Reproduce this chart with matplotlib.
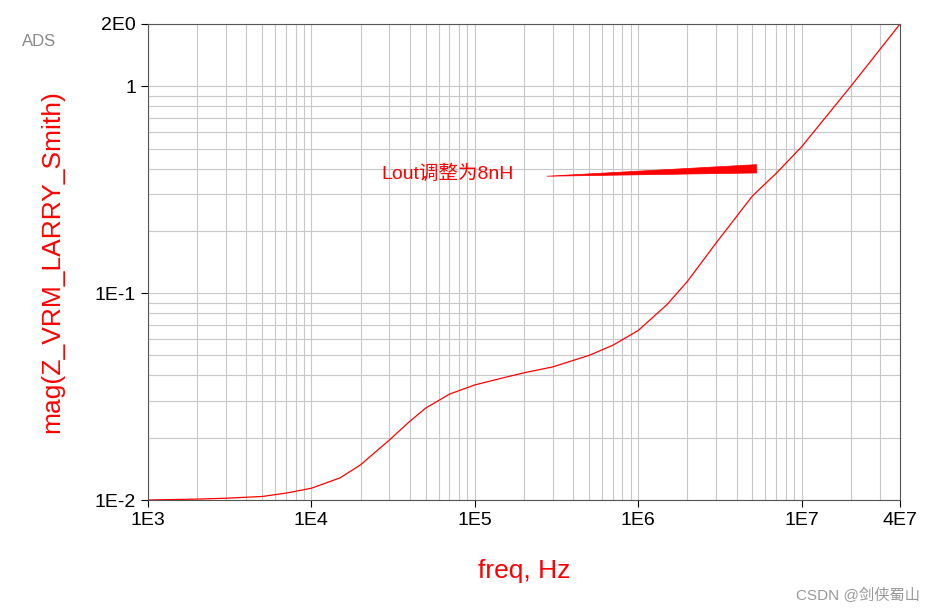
import matplotlib
matplotlib.use("Agg")
import matplotlib.pyplot as plt
import numpy as np
from matplotlib.ticker import FixedLocator, LogLocator, NullFormatter

freq = [1e3, 2e3, 3e3, 5e3, 7e3, 1e4, 1.5e4, 2e4, 3e4, 4e4, 5e4, 7e4, 1e5, 1.5e5, 2e5, 3e5, 5e5, 7e5, 1e6, 1.5e6, 2e6, 3e6, 5e6, 7e6, 1e7, 2e7, 4e7]
mag = [0.0100, 0.0101, 0.0102, 0.0104, 0.0108, 0.0114, 0.0128, 0.0148, 0.0195, 0.0240, 0.0278, 0.0325, 0.0360, 0.0390, 0.0412, 0.0440, 0.0500, 0.0560, 0.0660, 0.0880, 0.114, 0.175, 0.295, 0.380, 0.510, 1.00, 2.00]
xticks = [1e3, 1e4, 1e5, 1e6, 1e7, 4e7]
xlabels = ["1E3", "1E4", "1E5", "1E6", "1E7", "4E7"]
yticks = [1e-2, 1e-1, 1, 2]
ylabels = ["1E-2", "1E-1", "1", "2E0"]

plt.rcParams['font.family'] = ['Liberation Sans', 'Noto Sans CJK SC']
fig = plt.figure(figsize=(9.35, 6.13), dpi=100)
ax = fig.add_axes([148/935, 1-500/613, 752/935, 476/613])

ax.plot(freq, mag, color='red', lw=0.9)

ax.set_xscale('log'); ax.set_yscale('log')
ax.set_xlim(1e3, 4e7); ax.set_ylim(1e-2, 2)
ax.xaxis.set_major_locator(FixedLocator(xticks))
ax.set_xticklabels(xlabels)
ax.yaxis.set_major_locator(FixedLocator(yticks))
ax.set_yticklabels(ylabels)
ax.xaxis.set_minor_locator(LogLocator(subs=np.arange(2, 10)))
ax.yaxis.set_minor_locator(LogLocator(subs=np.arange(2, 10)))
ax.xaxis.set_minor_formatter(NullFormatter()); ax.yaxis.set_minor_formatter(NullFormatter())
ax.grid(True, which='both', color='#c8c8c8', lw=0.8)
ax.tick_params(which='minor', length=0)
ax.tick_params(which='major', length=5, labelsize=14, direction='out')
for s in ax.spines.values():
    s.set_color('#555555')
ax.set_xlabel('freq, Hz', color='red', fontsize=19, labelpad=22)
ax.set_ylabel('mag(Z_VRM_LARRY_Smith)', color='red', fontsize=19, labelpad=22)

ax.text(0.31, 0.685, 'Lout调整为8nH', transform=ax.transAxes, color='red', fontsize=14, va='center')
ax.annotate('', xy=(0.527, 0.68), xycoords='axes fraction', xytext=(0.813, 0.696), textcoords='axes fraction',
            arrowprops=dict(arrowstyle='wedge,tail_width=0.6', color='red', lw=0.5))
fig.text(22/935, 1-42/613, 'ADS', color='#888888', fontsize=12, va='center')
fig.text(920/935, 1-595/613, 'CSDN @剑侠蜀山', color='#999999', fontsize=11, ha='right', va='center')
fig.savefig('out.png', dpi=100)
